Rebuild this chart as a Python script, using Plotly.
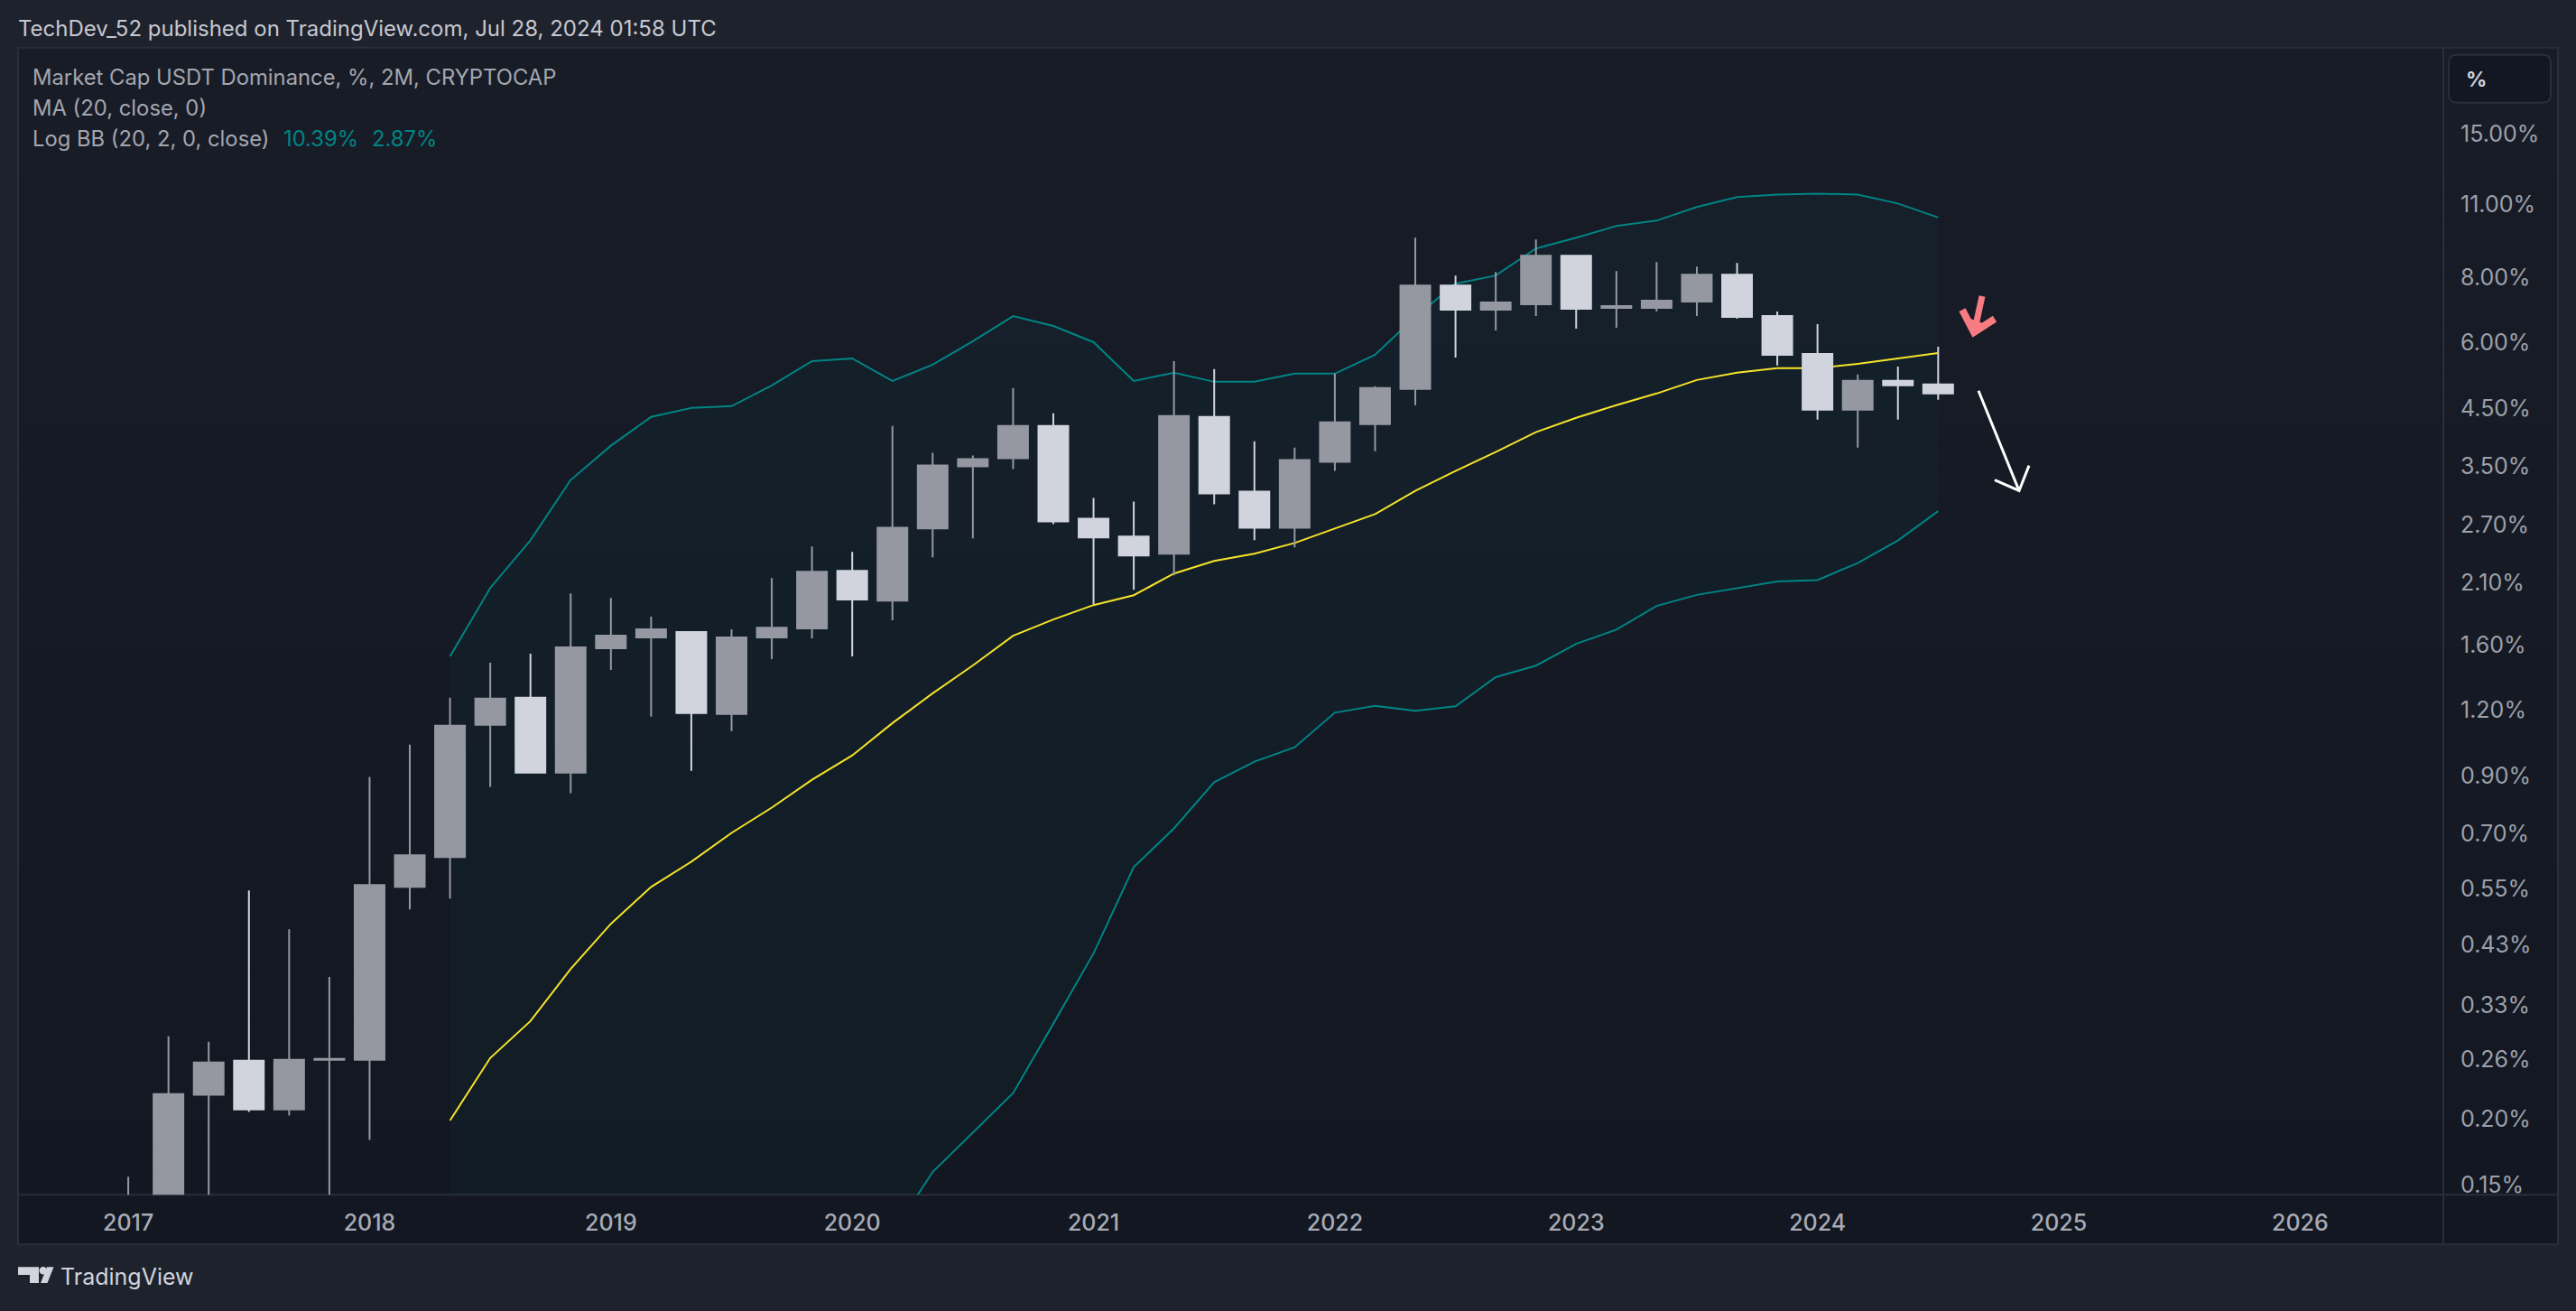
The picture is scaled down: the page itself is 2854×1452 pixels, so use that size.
import plotly.graph_objects as go

W, HT = 2854, 1452
# bimonthly candle periods, Jan 2017 .. 2027
periods = [f"{y}-{m:02d}" for y in range(2017, 2028) for m in (1, 3, 5, 7, 9, 11)]

open_ = [.1142,.1337,.2225,.2584,.2088,.2594,.2594,.5533,.6303,1.126,1.267,.9132,1.574,1.65,1.69,1.18,
         1.65,1.717,2.21,1.94,2.66,3.492,3.618,4.17,2.778,2.567,2.382,4.338,3.127,2.67,3.561,4.203,
         4.902,7.716,6.937,7.103,8.789,6.992,6.992,7.187,8.09,6.748,5.718,4.477,5.079,5.0]
close = [.1337,.2233,.2564,.2088,.2594,.2605,.5577,.6353,1.121,1.262,.9132,1.58,1.663,1.71,1.185,1.65,
         1.723,2.201,1.948,2.67,3.506,3.604,4.17,2.745,2.557,2.363,4.355,3.102,2.67,3.59,4.236,4.922,
         7.716,6.937,7.159,8.789,6.964,7.047,7.216,8.09,6.721,5.695,4.477,5.079,4.98,4.806]
high = [0.1554,0.2875,0.2807,0.5447,0.4597,0.373,0.8954,1.032,1.267,1.478,1.537,2.002,1.963,1.807,1.696,1.71,
        2.141,2.458,2.401,4.17,3.705,3.661,4.922,4.407,3.042,2.994,5.54,5.347,3.9,3.793,5.242,4.961,
        9.511,8.059,8.187,9.436,8.789,8.219,8.55,8.383,8.516,6.882,6.512,5.222,5.41,5.901]
low = [0.112,0.1076,0.1311,0.2064,0.2032,0.1311,0.1826,0.5014,0.5257,0.8573,0.9096,0.834,1.432,1.166,0.9204,1.095,
       1.501,1.644,1.519,1.779,2.344,2.547,3.451,2.713,1.91,2.034,2.167,2.959,2.527,2.448,3.424,3.734,
       4.566,5.628,6.335,6.748,6.385,6.411,6.882,6.748,6.668,5.432,4.287,3.793,4.287,4.676]
ma20 = [0.1988,0.2615,0.3074,0.3864,0.4707,0.5533,0.618,0.7011,0.783,0.8848,0.9843,1.134,1.292,1.46,1.663,1.786,
        1.902,1.986,2.184,2.308,2.382,2.497,2.66,2.833,3.139,3.424,3.719,4.057,4.321,4.566,4.806,5.099,
        5.263,5.368,5.368,5.475,5.606,5.74]
bb_upper = [1.519,2.05,2.527,3.291,3.824,4.338,4.512,4.548,4.98,5.54,5.606,5.079,5.453,6.042,6.748,6.461,
            6.018,5.079,5.263,5.059,5.059,5.242,5.242,5.695,6.721,7.777,8.059,9.071,9.511,10.01,10.25,10.88,
            11.36,11.49,11.54,11.49,11.05,10.39]
bb_lower = [0.01498,0.01898,0.02311,0.02815,0.03429,0.04177,0.04891,0.05727,0.06975,0.08167,0.09948,0.1212,
            0.1587,0.1887,0.2242,0.3038,0.4136,0.6035,0.7151,0.8755,0.9575,1.02,1.187,1.223,1.197,1.221,
            1.387,1.459,1.605,1.708,1.895,1.989,2.048,2.11,2.122,2.287,2.524,2.87]
y_ticks = [15, 11, 8, 6, 4.5, 3.5, 2.7, 2.1, 1.6, 1.2, 0.9, 0.7, 0.55, 0.43, 0.33, 0.26, 0.2, 0.15]
y_labels = ["15.00%","11.00%","8.00%","6.00%","4.50%","3.50%","2.70%","2.10%","1.60%","1.20%","0.90%","0.70%",
            "0.55%","0.43%","0.33%","0.26%","0.20%","0.15%"]
year_labels = ["2017","2018","2019","2020","2021","2022","2023","2024","2025","2026"]

FONT = "Inter"
GRAY, WHITE = "#9598a1", "#d1d4dc"
TEAL, YELLOW = "#008484", "#f7e32a"
BORDER = "#2a2e39"

px = lambda X: X / W
py = lambda Y: 1 - Y / HT
L_, R_, T_, B_ = 20, 2707, 53, 1327
FR, FB = 2834, 1382

x_band = periods[8:46]
x_tv = [f"{y[:4]}-01" for y in year_labels]

fig = go.Figure()
fig.add_trace(go.Scatter(x=x_band, y=bb_lower, mode="lines", line=dict(color=TEAL, width=2), hoverinfo="skip"))
fig.add_trace(go.Scatter(x=x_band, y=bb_upper, mode="lines", line=dict(color=TEAL, width=2), fill="tonexty",
                         fillcolor="rgba(0,137,123,0.05)", hoverinfo="skip"))
fig.add_trace(go.Scatter(x=x_band, y=ma20, mode="lines", line=dict(color=YELLOW, width=2), hoverinfo="skip"))
fig.add_trace(go.Candlestick(
    x=periods[:46], open=open_, high=high, low=low, close=close, xaxis="x2", yaxis="y2", whiskerwidth=0,
    increasing=dict(line=dict(color=GRAY, width=2), fillcolor=GRAY),
    decreasing=dict(line=dict(color=WHITE, width=2), fillcolor=WHITE),
))

shapes = []
# vertical shading of the chart panel
N = 48
for k in range(N):
    t = k / (N - 1)
    c = f"rgb({round(24 - 6*t)},{round(28 - 5*t)},{round(39 - 6*t)})"
    y0 = T_ + (FB - T_) * k / N
    y1 = T_ + (FB - T_) * (k + 1) / N + 1
    shapes.append(dict(type="rect", xref="paper", yref="paper", x0=px(L_), x1=px(FR), y0=py(y0), y1=py(min(y1, FB)),
                       fillcolor=c, line_width=0, layer="below"))
line = dict(color=BORDER, width=2)
shapes += [
    dict(type="rect", xref="paper", yref="paper", x0=px(L_), x1=px(FR), y0=py(T_), y1=py(FB), line=line, layer="below"),
    dict(type="line", xref="paper", yref="paper", x0=px(R_), x1=px(R_), y0=py(T_), y1=py(FB), line=line, layer="below"),
    dict(type="line", xref="paper", yref="paper", x0=px(L_), x1=px(FR), y0=py(B_), y1=py(B_), line=line, layer="below"),
]

def path(pts, close_=False):
    s = "M" + " L".join(f"{px(x):.5f},{py(y):.5f}" for x, y in pts)
    return s + (" Z" if close_ else "")

PINK = "#f87c82"
shapes.append(dict(type="path", xref="paper", yref="paper", path=path([(2196, 329), (2188, 366)]),
                   line=dict(color=PINK, width=7)))
shapes.append(dict(type="path", xref="paper", yref="paper", path=path([(2174, 344), (2187, 369), (2210, 354)]),
                   line=dict(color=PINK, width=8)))
shapes.append(dict(type="path", xref="paper", yref="paper", path=path([(2178, 352), (2187, 372), (2202, 361)], True),
                   fillcolor=PINK, line_width=0))
for pts in ([(2192, 434), (2237, 545)], [(2210, 533), (2237, 545), (2248, 517)]):
    shapes.append(dict(type="path", xref="paper", yref="paper", path=path(pts), line=dict(color="#ffffff", width=3)))

# % button (rounded)
x0, x1, y0, y1, r = 2713, 2826, 61, 114, 9
btn = (f"M{px(x0+r):.5f},{py(y0):.5f} L{px(x1-r):.5f},{py(y0):.5f} Q{px(x1):.5f},{py(y0):.5f} {px(x1):.5f},{py(y0+r):.5f} "
       f"L{px(x1):.5f},{py(y1-r):.5f} Q{px(x1):.5f},{py(y1):.5f} {px(x1-r):.5f},{py(y1):.5f} "
       f"L{px(x0+r):.5f},{py(y1):.5f} Q{px(x0):.5f},{py(y1):.5f} {px(x0):.5f},{py(y1-r):.5f} "
       f"L{px(x0):.5f},{py(y0+r):.5f} Q{px(x0):.5f},{py(y0):.5f} {px(x0+r):.5f},{py(y0):.5f} Z")
shapes.append(dict(type="path", xref="paper", yref="paper", path=btn, fillcolor="#131722",
                   line=dict(color=BORDER, width=2), layer="below"))
# TradingView logo
logo = WHITE
shapes.append(dict(type="path", xref="paper", yref="paper", fillcolor=logo, line_width=0,
                   path=path([(20, 1407), (43, 1407), (43, 1425), (33, 1425), (33, 1416), (20, 1416)], True)))
shapes.append(dict(type="circle", xref="paper", yref="paper", x0=px(43.5), x1=px(52), y0=py(1407), y1=py(1415.5),
                   fillcolor=logo, line_width=0))
shapes.append(dict(type="path", xref="paper", yref="paper", fillcolor=logo, line_width=0,
                   path=path([(52, 1407), (59.5, 1407), (52.5, 1425), (45, 1425)], True)))

def note(x, y, text, size=24, color="#a3a6af", **kw):
    return dict(xref="paper", yref="paper", x=px(x), y=py(y), text=text, showarrow=False, xanchor="left",
                yanchor="middle", align="left", font=dict(family=FONT, size=size, color=color), **kw)

annotations = [
    note(18, 32, "TechDev_52 published on TradingView.com, Jul 28, 2024 01:58 UTC", color="#c6c8d0"),
    note(33.5, 86, "Market Cap USDT Dominance, %, 2M, CRYPTOCAP", size=23.8),
    note(33.5, 120, "MA (20, close, 0)", size=23.8),
    note(33.5, 154, "Log BB (20, 2, 0, close)", size=23.8),
    note(312, 154, "10.39%", size=23.8, color=TEAL),
    note(410, 154, "2.87%", size=23.8, color=TEAL),
    note(2730, 88, "<b>%</b>", size=23, color=WHITE),
    note(65, 1418, "TradingView", size=25, color=WHITE),
]

x_range = [-2.74, 57.56]
y_range = [-0.8429, 1.3397]
xd = [px(L_), px(R_)]
yd = [py(B_), py(T_)]
fig.update_layout(
    width=W, height=HT, autosize=False, margin=dict(l=0, r=0, t=0, b=0), boxgap=0.26, boxgroupgap=0,
    paper_bgcolor="#1e222d", plot_bgcolor="rgba(0,0,0,0)", showlegend=False, hovermode=False,
    shapes=shapes, annotations=annotations,
    xaxis=dict(type="category", categoryorder="array", categoryarray=periods, domain=xd, range=x_range, anchor="y",
               tickmode="array", tickvals=x_tv, ticktext=year_labels, showgrid=False, zeroline=False, showline=False,
               ticks="outside", ticklen=9, tickcolor="rgba(0,0,0,0)",
               tickfont=dict(family=FONT, size=25, color="#a8abb5", weight=500), rangeslider=dict(visible=False)),
    xaxis2=dict(type="category", categoryorder="array", categoryarray=periods, domain=xd, range=x_range, overlaying="x",
                anchor="y2", visible=False, rangeslider=dict(visible=False)),
    yaxis=dict(type="log", domain=yd, range=y_range, side="right", anchor="x", tickmode="array", tickvals=y_ticks,
               ticktext=y_labels, showgrid=False, zeroline=False, showline=False, ticks="outside", ticklen=13,
               tickcolor="rgba(0,0,0,0)", tickfont=dict(family=FONT, size=25, color="#9da0aa")),
    yaxis2=dict(type="log", domain=yd, range=y_range, overlaying="y", side="right", anchor="x2", visible=False),
)
fig.write_html("out.html", config=dict(displayModeBar=False),
               post_script=("var h=document.documentElement;h.style.overflow='hidden';h.style.height='1452px';"
                            "var b=document.body;b.style.margin='0';b.style.overflow='hidden';b.style.height='1452px';"
                            "document.querySelectorAll('.svg-container').forEach(function(e){"
                            "e.style.display='block';e.style.verticalAlign='top';});"
                            "document.querySelectorAll('.plotly-graph-div').forEach(function(e){"
                            "e.style.overflow='hidden';e.parentElement.style.height='1452px';"
                            "e.parentElement.style.overflow='hidden';});"))
